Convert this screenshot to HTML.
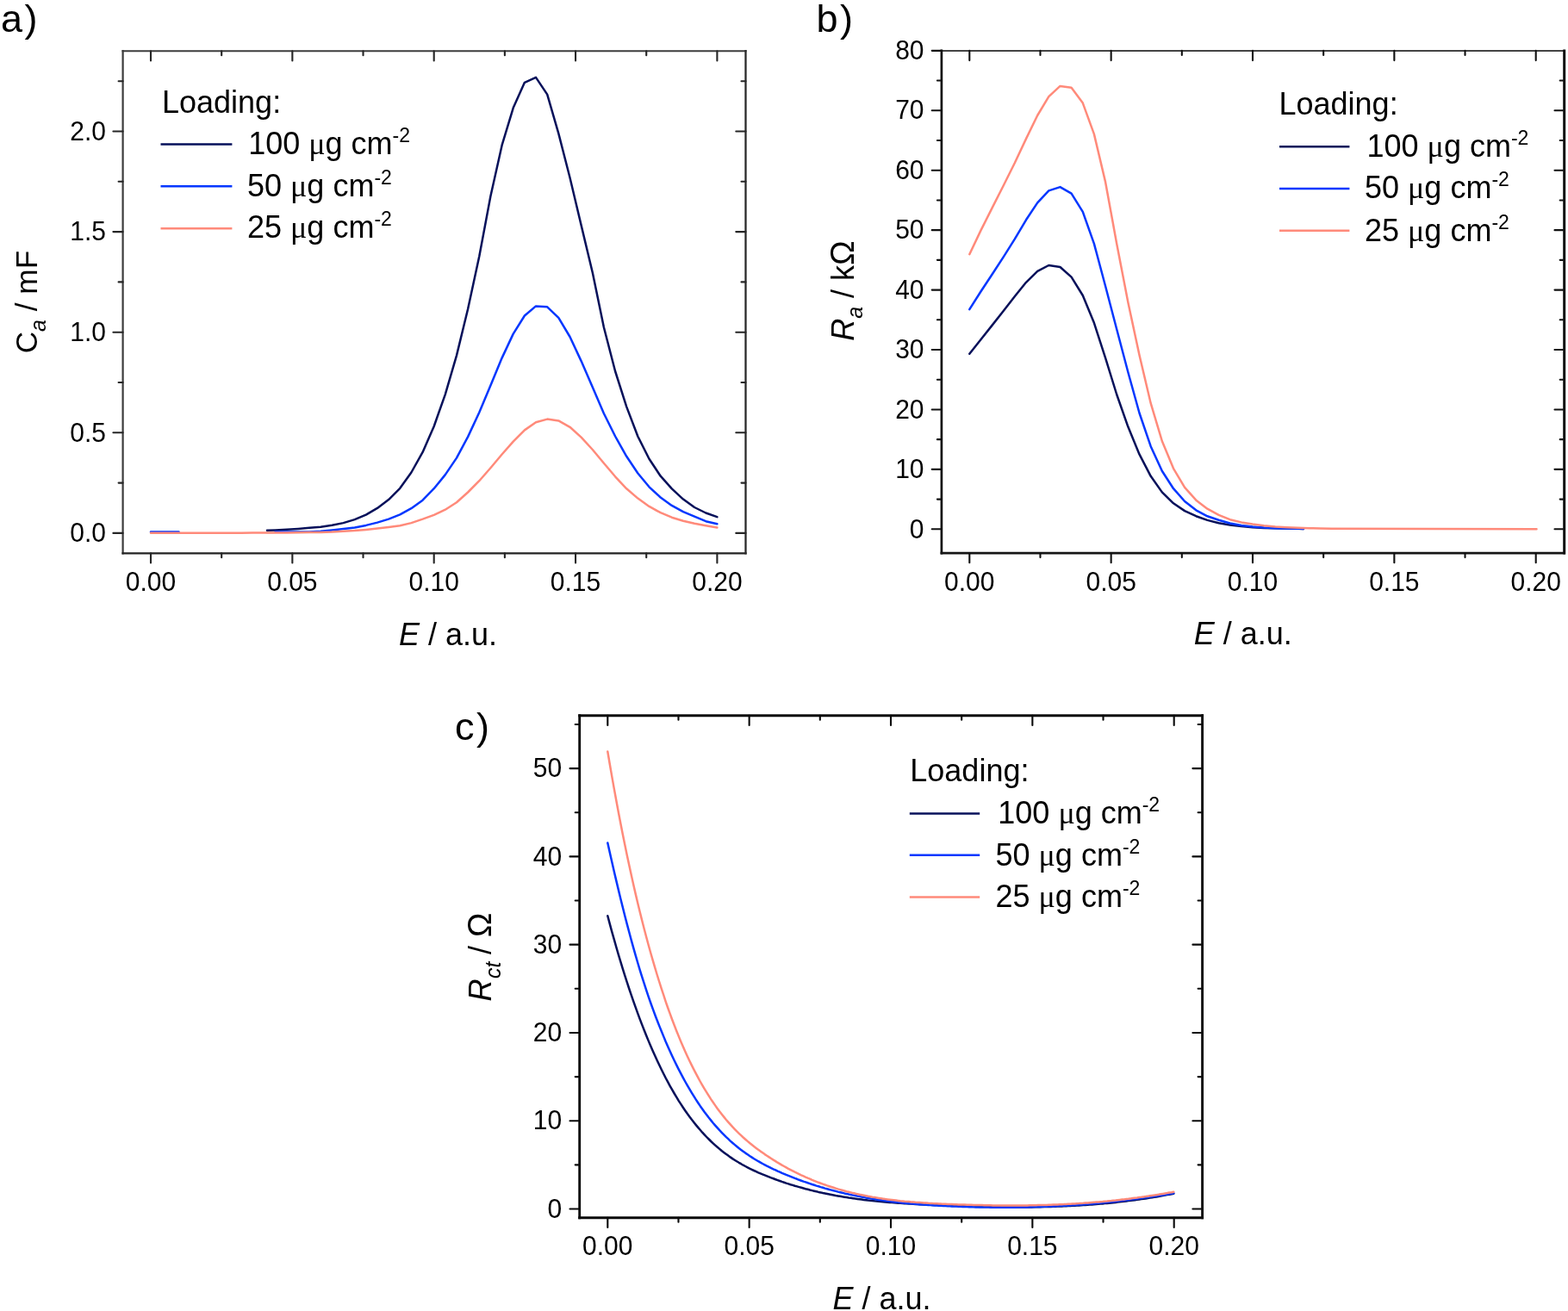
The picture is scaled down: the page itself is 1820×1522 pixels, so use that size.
<!DOCTYPE html>
<html><head><meta charset="utf-8"><title>Figure</title>
<style>
html,body{margin:0;padding:0;background:#fff;}
body{width:1820px;height:1522px;overflow:hidden;}
svg{display:block;}
text{font-family:'Liberation Sans', Arial, sans-serif;fill:#000;}
.tk{font-size:30px;}
.lg{font-size:36px;}
.sup{font-size:23px;}
.mu{font-family:'Liberation Serif',serif;}
.ax{font-size:36px;}
.sub{font-size:25px;font-style:italic;}
.it{font-style:italic;}
.pl{font-size:45px;}
</style></head>
<body>
<svg width="1820" height="1522" viewBox="0 0 1820 1522">
<rect width="1820" height="1522" fill="#fff"/>
<path d="M310.0 615.8 319.6 615.5 332.8 614.8 345.9 613.9 359.1 612.7 372.2 611.7 385.4 609.8 398.5 607.1 411.7 603.1 424.8 597.6 438.0 589.9 451.1 580.1 464.3 566.8 477.4 548.5 490.6 524.9 503.7 495.0 516.8 457.8 530.0 412.6 543.1 358.8 556.3 297.5 569.4 227.8 582.6 168.7 595.7 125.3 608.9 95.8 622.0 89.9 635.2 109.6 648.3 154.9 661.5 206.2 674.6 261.4 687.8 316.5 700.9 380.0 714.1 431.0 727.2 472.1 740.4 506.7 753.5 532.8 766.7 552.7 779.8 567.4 793.0 579.6 806.1 589.0 819.3 595.5 832.4 600.1" fill="none" stroke="#06105a" stroke-width="2.5" stroke-linejoin="round" stroke-linecap="round"/>
<path d="M175.0 617.6 207.5 617.6" fill="none" stroke="#0437ff" stroke-width="2.5" stroke-linejoin="round" stroke-linecap="round"/>
<path d="M319.6 617.5 332.8 617.5 345.9 617.5 359.1 617.5 372.2 616.7 385.4 615.5 398.5 614.1 411.7 612.4 424.8 609.9 438.0 606.6 451.1 602.6 464.3 597.3 477.4 590.2 490.6 580.7 503.7 567.2 516.8 551.1 530.0 531.6 543.1 507.1 556.3 478.7 569.4 447.5 582.6 415.6 595.7 387.6 608.9 366.5 622.0 355.4 635.2 356.3 648.3 368.8 661.5 391.0 674.6 419.1 687.8 449.4 700.9 480.0 714.1 506.5 727.2 529.8 740.4 549.5 753.5 565.3 766.7 577.5 779.8 586.9 793.0 594.2 806.1 599.7 819.3 605.2 832.4 608.2" fill="none" stroke="#0437ff" stroke-width="2.5" stroke-linejoin="round" stroke-linecap="round"/>
<path d="M175.0 618.8 188.1 618.8 201.3 618.8 214.4 618.8 227.6 618.8 240.7 618.8 253.9 618.7 267.0 618.7 280.2 618.7 293.3 618.6 306.5 618.6 319.6 618.5 332.8 618.4 345.9 618.2 359.1 618.0 372.2 617.9 385.4 617.5 398.5 616.8 411.7 616.0 424.8 614.9 438.0 613.6 451.1 612.1 464.3 610.3 477.4 607.1 490.6 602.6 503.7 597.8 516.8 591.7 530.0 583.3 543.1 571.5 556.3 558.2 569.4 543.2 582.6 527.5 595.7 512.6 608.9 499.4 622.0 490.3 635.2 486.6 648.3 488.4 661.5 495.8 674.6 507.6 687.8 522.0 700.9 537.8 714.1 553.3 727.2 567.3 740.4 578.6 753.5 587.9 766.7 595.2 779.8 600.7 793.0 604.7 806.1 607.8 819.3 610.3 832.4 612.6" fill="none" stroke="#ff8a7a" stroke-width="2.5" stroke-linejoin="round" stroke-linecap="round"/>
<path d="M1125.3 410.8 1138.4 394.2 1151.6 377.6 1164.7 360.9 1177.9 344.1 1191.0 327.8 1204.2 314.8 1217.3 308.0 1230.5 310.0 1243.6 321.6 1256.8 343.0 1269.9 374.8 1283.1 415.6 1296.2 458.0 1309.4 495.6 1322.5 527.4 1335.7 552.8 1348.8 571.4 1362.0 584.3 1375.1 593.1 1388.3 599.2 1401.4 603.9 1414.6 607.3 1427.7 609.4 1440.9 611.1 1454.0 612.2 1467.1 612.9 1480.3 613.3 1493.4 613.6 1506.6 613.8 1513.0 613.9" fill="none" stroke="#06105a" stroke-width="2.5" stroke-linejoin="round" stroke-linecap="round"/>
<path d="M1125.3 359.2 1138.4 338.5 1151.6 318.5 1164.7 298.4 1177.9 277.4 1191.0 255.3 1204.2 235.4 1217.3 221.4 1230.5 217.1 1243.6 224.6 1256.8 245.9 1269.9 282.9 1283.1 332.2 1296.2 382.2 1309.4 432.2 1322.5 479.5 1335.7 518.2 1348.8 546.7 1362.0 567.2 1375.1 582.0 1388.3 592.3 1401.4 599.3 1414.6 603.7 1427.7 607.5 1440.9 610.0 1454.0 611.6 1467.1 612.6 1480.3 613.2 1493.4 613.6 1506.6 613.8 1513.0 613.9" fill="none" stroke="#0437ff" stroke-width="2.5" stroke-linejoin="round" stroke-linecap="round"/>
<path d="M1125.3 295.2 1138.4 267.6 1151.6 241.4 1164.7 215.5 1177.9 189.0 1191.0 161.1 1204.2 134.0 1217.3 112.1 1230.5 99.9 1243.6 101.7 1256.8 119.6 1269.9 155.6 1283.1 211.4 1296.2 282.9 1309.4 351.2 1322.5 412.3 1335.7 468.2 1348.8 512.0 1362.0 543.8 1375.1 565.9 1388.3 580.7 1401.4 590.7 1414.6 597.9 1427.7 603.2 1440.9 606.4 1454.0 608.6 1467.1 610.2 1480.3 611.4 1493.4 612.2 1506.6 612.8 1519.7 613.2 1532.9 613.5 1546.0 613.7 1550.0 613.7 1783.5 614.2" fill="none" stroke="#ff8a7a" stroke-width="2.5" stroke-linejoin="round" stroke-linecap="round"/>
<path d="M705.3 1063.2 707.8 1072.6 710.3 1081.8 712.8 1090.7 715.3 1099.5 717.8 1108.1 720.3 1116.4 722.8 1124.6 725.3 1132.6 727.8 1140.4 730.3 1148.0 732.8 1155.4 735.3 1162.7 737.8 1169.7 740.3 1176.6 742.8 1183.4 745.3 1189.9 747.8 1196.3 750.3 1202.5 752.8 1208.6 755.3 1214.5 757.8 1220.2 760.3 1225.8 762.8 1231.2 765.3 1236.5 767.8 1241.7 770.3 1246.7 772.7 1251.5 775.2 1256.2 777.7 1260.8 780.2 1265.2 782.7 1269.5 785.2 1273.7 787.7 1277.8 790.2 1281.7 792.7 1285.5 795.2 1289.2 797.7 1292.8 800.2 1296.2 802.7 1299.6 805.2 1302.8 807.7 1305.9 810.2 1308.9 812.7 1311.8 815.2 1314.7 817.7 1317.4 820.2 1320.0 822.7 1322.5 825.2 1325.0 827.7 1327.3 830.2 1329.6 832.7 1331.8 835.2 1333.9 837.7 1336.0 840.2 1337.9 842.7 1339.8 845.2 1341.6 847.7 1343.4 850.2 1345.1 852.7 1346.7 855.2 1348.3 857.7 1349.8 860.2 1351.2 862.7 1352.7 865.2 1354.0 867.7 1355.3 870.2 1356.6 872.7 1357.8 875.2 1359.0 877.7 1360.1 880.2 1361.3 882.7 1362.3 885.2 1363.4 887.7 1364.4 890.2 1365.4 892.7 1366.4 895.2 1367.4 897.7 1368.3 900.2 1369.2 902.6 1370.1 905.1 1371.0 907.6 1371.9 910.1 1372.7 912.6 1373.6 915.1 1374.4 917.6 1375.2 920.1 1375.9 922.6 1376.7 925.1 1377.4 927.6 1378.1 930.1 1378.8 932.6 1379.5 935.1 1380.2 937.6 1380.8 940.1 1381.5 942.6 1382.1 945.1 1382.7 947.6 1383.3 950.1 1383.9 952.6 1384.4 955.1 1385.0 957.6 1385.5 960.1 1386.0 962.6 1386.5 965.1 1387.0 967.6 1387.5 970.1 1388.0 972.6 1388.4 975.1 1388.8 977.6 1389.3 980.1 1389.7 982.6 1390.1 985.1 1390.5 987.6 1390.8 990.1 1391.2 992.6 1391.6 995.1 1391.9 997.6 1392.2 1000.1 1392.5 1002.6 1392.9 1005.1 1393.2 1007.6 1393.5 1010.1 1393.7 1012.6 1394.0 1015.1 1394.3 1017.6 1394.5 1020.1 1394.8 1022.6 1395.0 1025.1 1395.3 1027.6 1395.5 1030.1 1395.7 1032.6 1395.9 1035.0 1396.1 1037.5 1396.3 1040.0 1396.5 1042.5 1396.7 1045.0 1396.8 1047.5 1397.0 1050.0 1397.2 1052.5 1397.3 1055.0 1397.5 1057.5 1397.6 1060.0 1397.8 1062.5 1397.9 1065.0 1398.1 1067.5 1398.2 1070.0 1398.3 1072.5 1398.4 1075.0 1398.6 1077.5 1398.7 1080.0 1398.8 1082.5 1398.9 1085.0 1399.0 1087.5 1399.1 1090.0 1399.2 1092.5 1399.4 1095.0 1399.5 1097.5 1399.6 1100.0 1399.7 1102.5 1399.8 1105.0 1399.9 1107.5 1399.9 1110.0 1400.0 1112.5 1400.1 1115.0 1400.2 1117.5 1400.3 1120.0 1400.4 1122.5 1400.5 1125.0 1400.5 1127.5 1400.6 1130.0 1400.7 1132.5 1400.8 1135.0 1400.8 1137.5 1400.9 1140.0 1401.0 1142.5 1401.0 1145.0 1401.1 1147.5 1401.1 1150.0 1401.2 1152.5 1401.2 1155.0 1401.3 1157.5 1401.3 1160.0 1401.3 1162.5 1401.4 1165.0 1401.4 1167.4 1401.4 1169.9 1401.4 1172.4 1401.4 1174.9 1401.4 1177.4 1401.5 1179.9 1401.5 1182.4 1401.5 1184.9 1401.5 1187.4 1401.4 1189.9 1401.4 1192.4 1401.4 1194.9 1401.4 1197.4 1401.4 1199.9 1401.3 1202.4 1401.3 1204.9 1401.2 1207.4 1401.2 1209.9 1401.1 1212.4 1401.1 1214.9 1401.0 1217.4 1401.0 1219.9 1400.9 1222.4 1400.8 1224.9 1400.7 1227.4 1400.6 1229.9 1400.5 1232.4 1400.4 1234.9 1400.3 1237.4 1400.2 1239.9 1400.1 1242.4 1400.0 1244.9 1399.8 1247.4 1399.7 1249.9 1399.6 1252.4 1399.4 1254.9 1399.3 1257.4 1399.1 1259.9 1398.9 1262.4 1398.8 1264.9 1398.6 1267.4 1398.4 1269.9 1398.2 1272.4 1398.0 1274.9 1397.8 1277.4 1397.6 1279.9 1397.4 1282.4 1397.1 1284.9 1396.9 1287.4 1396.7 1289.9 1396.4 1292.4 1396.2 1294.9 1395.9 1297.3 1395.6 1299.8 1395.3 1302.3 1395.1 1304.8 1394.8 1307.3 1394.5 1309.8 1394.1 1312.3 1393.8 1314.8 1393.5 1317.3 1393.2 1319.8 1392.8 1322.3 1392.5 1324.8 1392.1 1327.3 1391.7 1329.8 1391.4 1332.3 1391.0 1334.8 1390.6 1337.3 1390.2 1339.8 1389.8 1342.3 1389.4 1344.8 1388.9 1347.3 1388.5 1349.8 1388.1 1352.3 1387.6 1354.8 1387.1 1357.3 1386.7 1359.8 1386.2 1362.3 1385.7" fill="none" stroke="#06105a" stroke-width="2.5" stroke-linejoin="round" stroke-linecap="round"/>
<path d="M705.3 978.4 707.8 989.7 710.3 1000.8 712.8 1011.7 715.3 1022.4 717.8 1032.9 720.3 1043.2 722.8 1053.3 725.3 1063.2 727.8 1072.9 730.3 1082.3 732.8 1091.6 735.3 1100.6 737.8 1109.4 740.3 1118.0 742.8 1126.3 745.3 1134.4 747.8 1142.2 750.3 1149.9 752.8 1157.3 755.3 1164.5 757.8 1171.4 760.3 1178.2 762.8 1184.8 765.3 1191.1 767.8 1197.3 770.3 1203.4 772.7 1209.3 775.2 1215.0 777.7 1220.6 780.2 1226.0 782.7 1231.2 785.2 1236.4 787.7 1241.4 790.2 1246.2 792.7 1250.9 795.2 1255.5 797.7 1259.9 800.2 1264.2 802.7 1268.4 805.2 1272.4 807.7 1276.4 810.2 1280.2 812.7 1283.9 815.2 1287.4 817.7 1290.9 820.2 1294.2 822.7 1297.5 825.2 1300.6 827.7 1303.7 830.2 1306.6 832.7 1309.4 835.2 1312.2 837.7 1314.8 840.2 1317.4 842.7 1319.9 845.2 1322.2 847.7 1324.6 850.2 1326.8 852.7 1328.9 855.2 1331.0 857.7 1333.0 860.2 1334.9 862.7 1336.8 865.2 1338.6 867.7 1340.3 870.2 1342.0 872.7 1343.6 875.2 1345.2 877.7 1346.7 880.2 1348.2 882.7 1349.6 885.2 1351.0 887.7 1352.3 890.2 1353.6 892.7 1354.8 895.2 1356.1 897.7 1357.3 900.2 1358.4 902.6 1359.6 905.1 1360.7 907.6 1361.8 910.1 1362.8 912.6 1363.9 915.1 1364.9 917.6 1365.9 920.1 1366.9 922.6 1367.9 925.1 1368.8 927.6 1369.8 930.1 1370.7 932.6 1371.6 935.1 1372.4 937.6 1373.3 940.1 1374.1 942.6 1375.0 945.1 1375.8 947.6 1376.6 950.1 1377.3 952.6 1378.1 955.1 1378.8 957.6 1379.6 960.1 1380.3 962.6 1381.0 965.1 1381.6 967.6 1382.3 970.1 1382.9 972.6 1383.6 975.1 1384.2 977.6 1384.8 980.1 1385.4 982.6 1385.9 985.1 1386.5 987.6 1387.0 990.1 1387.6 992.6 1388.1 995.1 1388.6 997.6 1389.1 1000.1 1389.5 1002.6 1390.0 1005.1 1390.4 1007.6 1390.9 1010.1 1391.3 1012.6 1391.7 1015.1 1392.1 1017.6 1392.5 1020.1 1392.9 1022.6 1393.2 1025.1 1393.6 1027.6 1394.0 1030.1 1394.3 1032.6 1394.6 1035.0 1394.9 1037.5 1395.2 1040.0 1395.5 1042.5 1395.8 1045.0 1396.1 1047.5 1396.4 1050.0 1396.6 1052.5 1396.9 1055.0 1397.1 1057.5 1397.3 1060.0 1397.6 1062.5 1397.8 1065.0 1398.0 1067.5 1398.2 1070.0 1398.4 1072.5 1398.6 1075.0 1398.7 1077.5 1398.9 1080.0 1399.1 1082.5 1399.2 1085.0 1399.4 1087.5 1399.5 1090.0 1399.7 1092.5 1399.8 1095.0 1400.0 1097.5 1400.1 1100.0 1400.2 1102.5 1400.3 1105.0 1400.4 1107.5 1400.5 1110.0 1400.6 1112.5 1400.7 1115.0 1400.8 1117.5 1400.9 1120.0 1401.0 1122.5 1401.1 1125.0 1401.2 1127.5 1401.2 1130.0 1401.3 1132.5 1401.4 1135.0 1401.4 1137.5 1401.5 1140.0 1401.5 1142.5 1401.6 1145.0 1401.6 1147.5 1401.6 1150.0 1401.7 1152.5 1401.7 1155.0 1401.7 1157.5 1401.7 1160.0 1401.7 1162.5 1401.7 1165.0 1401.7 1167.4 1401.7 1169.9 1401.7 1172.4 1401.7 1174.9 1401.7 1177.4 1401.7 1179.9 1401.6 1182.4 1401.6 1184.9 1401.6 1187.4 1401.5 1189.9 1401.5 1192.4 1401.4 1194.9 1401.3 1197.4 1401.3 1199.9 1401.2 1202.4 1401.1 1204.9 1401.1 1207.4 1401.0 1209.9 1400.9 1212.4 1400.8 1214.9 1400.7 1217.4 1400.6 1219.9 1400.5 1222.4 1400.4 1224.9 1400.2 1227.4 1400.1 1229.9 1400.0 1232.4 1399.8 1234.9 1399.7 1237.4 1399.5 1239.9 1399.4 1242.4 1399.2 1244.9 1399.1 1247.4 1398.9 1249.9 1398.7 1252.4 1398.6 1254.9 1398.4 1257.4 1398.2 1259.9 1398.0 1262.4 1397.8 1264.9 1397.6 1267.4 1397.4 1269.9 1397.2 1272.4 1396.9 1274.9 1396.7 1277.4 1396.5 1279.9 1396.2 1282.4 1396.0 1284.9 1395.7 1287.4 1395.5 1289.9 1395.2 1292.4 1395.0 1294.9 1394.7 1297.3 1394.4 1299.8 1394.1 1302.3 1393.8 1304.8 1393.5 1307.3 1393.2 1309.8 1392.9 1312.3 1392.6 1314.8 1392.3 1317.3 1392.0 1319.8 1391.7 1322.3 1391.3 1324.8 1391.0 1327.3 1390.6 1329.8 1390.3 1332.3 1389.9 1334.8 1389.6 1337.3 1389.2 1339.8 1388.8 1342.3 1388.5 1344.8 1388.1 1347.3 1387.7 1349.8 1387.3 1352.3 1386.9 1354.8 1386.5 1357.3 1386.1 1359.8 1385.6 1362.3 1385.2" fill="none" stroke="#0437ff" stroke-width="2.5" stroke-linejoin="round" stroke-linecap="round"/>
<path d="M705.3 872.5 707.8 887.2 710.3 901.6 712.8 915.6 715.3 929.3 717.8 942.7 720.3 955.7 722.8 968.4 725.3 980.8 727.8 992.9 730.3 1004.6 732.8 1016.1 735.3 1027.3 737.8 1038.1 740.3 1048.7 742.8 1059.0 745.3 1069.0 747.8 1078.8 750.3 1088.3 752.8 1097.5 755.3 1106.5 757.8 1115.2 760.3 1123.7 762.8 1132.0 765.3 1140.0 767.8 1147.8 770.3 1155.4 772.7 1162.8 775.2 1170.0 777.7 1176.9 780.2 1183.7 782.7 1190.3 785.2 1196.7 787.7 1202.9 790.2 1208.9 792.7 1214.7 795.2 1220.4 797.7 1225.9 800.2 1231.2 802.7 1236.4 805.2 1241.4 807.7 1246.2 810.2 1250.9 812.7 1255.5 815.2 1259.9 817.7 1264.1 820.2 1268.2 822.7 1272.2 825.2 1276.1 827.7 1279.8 830.2 1283.4 832.7 1286.9 835.2 1290.3 837.7 1293.5 840.2 1296.6 842.7 1299.7 845.2 1302.6 847.7 1305.4 850.2 1308.2 852.7 1310.8 855.2 1313.4 857.7 1315.8 860.2 1318.2 862.7 1320.5 865.2 1322.7 867.7 1324.9 870.2 1327.0 872.7 1329.0 875.2 1331.0 877.7 1332.9 880.2 1334.8 882.7 1336.6 885.2 1338.3 887.7 1340.1 890.2 1341.8 892.7 1343.4 895.2 1345.0 897.7 1346.6 900.2 1348.1 902.6 1349.7 905.1 1351.1 907.6 1352.6 910.1 1354.0 912.6 1355.4 915.1 1356.8 917.6 1358.1 920.1 1359.4 922.6 1360.7 925.1 1361.9 927.6 1363.1 930.1 1364.3 932.6 1365.4 935.1 1366.6 937.6 1367.7 940.1 1368.7 942.6 1369.8 945.1 1370.8 947.6 1371.8 950.1 1372.8 952.6 1373.7 955.1 1374.6 957.6 1375.5 960.1 1376.4 962.6 1377.2 965.1 1378.0 967.6 1378.8 970.1 1379.6 972.6 1380.4 975.1 1381.1 977.6 1381.8 980.1 1382.5 982.6 1383.2 985.1 1383.8 987.6 1384.4 990.1 1385.1 992.6 1385.6 995.1 1386.2 997.6 1386.8 1000.1 1387.3 1002.6 1387.8 1005.1 1388.3 1007.6 1388.8 1010.1 1389.2 1012.6 1389.7 1015.1 1390.1 1017.6 1390.5 1020.1 1390.9 1022.6 1391.3 1025.1 1391.7 1027.6 1392.1 1030.1 1392.4 1032.6 1392.7 1035.0 1393.0 1037.5 1393.3 1040.0 1393.6 1042.5 1393.9 1045.0 1394.2 1047.5 1394.4 1050.0 1394.7 1052.5 1394.9 1055.0 1395.1 1057.5 1395.4 1060.0 1395.6 1062.5 1395.8 1065.0 1395.9 1067.5 1396.1 1070.0 1396.3 1072.5 1396.5 1075.0 1396.6 1077.5 1396.8 1080.0 1396.9 1082.5 1397.1 1085.0 1397.2 1087.5 1397.3 1090.0 1397.4 1092.5 1397.6 1095.0 1397.7 1097.5 1397.8 1100.0 1397.9 1102.5 1398.0 1105.0 1398.1 1107.5 1398.2 1110.0 1398.3 1112.5 1398.4 1115.0 1398.5 1117.5 1398.5 1120.0 1398.6 1122.5 1398.7 1125.0 1398.8 1127.5 1398.8 1130.0 1398.9 1132.5 1399.0 1135.0 1399.0 1137.5 1399.1 1140.0 1399.1 1142.5 1399.2 1145.0 1399.2 1147.5 1399.3 1150.0 1399.3 1152.5 1399.4 1155.0 1399.4 1157.5 1399.4 1160.0 1399.4 1162.5 1399.5 1165.0 1399.5 1167.4 1399.5 1169.9 1399.5 1172.4 1399.5 1174.9 1399.5 1177.4 1399.5 1179.9 1399.5 1182.4 1399.5 1184.9 1399.5 1187.4 1399.4 1189.9 1399.4 1192.4 1399.4 1194.9 1399.3 1197.4 1399.3 1199.9 1399.2 1202.4 1399.2 1204.9 1399.1 1207.4 1399.1 1209.9 1399.0 1212.4 1398.9 1214.9 1398.9 1217.4 1398.8 1219.9 1398.7 1222.4 1398.6 1224.9 1398.5 1227.4 1398.4 1229.9 1398.3 1232.4 1398.2 1234.9 1398.1 1237.4 1397.9 1239.9 1397.8 1242.4 1397.7 1244.9 1397.5 1247.4 1397.4 1249.9 1397.2 1252.4 1397.1 1254.9 1396.9 1257.4 1396.8 1259.9 1396.6 1262.4 1396.4 1264.9 1396.2 1267.4 1396.0 1269.9 1395.8 1272.4 1395.6 1274.9 1395.4 1277.4 1395.2 1279.9 1395.0 1282.4 1394.7 1284.9 1394.5 1287.4 1394.2 1289.9 1394.0 1292.4 1393.7 1294.9 1393.5 1297.3 1393.2 1299.8 1392.9 1302.3 1392.6 1304.8 1392.4 1307.3 1392.1 1309.8 1391.8 1312.3 1391.4 1314.8 1391.1 1317.3 1390.8 1319.8 1390.5 1322.3 1390.1 1324.8 1389.8 1327.3 1389.4 1329.8 1389.1 1332.3 1388.7 1334.8 1388.3 1337.3 1387.9 1339.8 1387.6 1342.3 1387.2 1344.8 1386.8 1347.3 1386.3 1349.8 1385.9 1352.3 1385.5 1354.8 1385.1 1357.3 1384.6 1359.8 1384.2 1362.3 1383.7" fill="none" stroke="#ff8a7a" stroke-width="2.5" stroke-linejoin="round" stroke-linecap="round"/>
<line x1="142.6" y1="59.2" x2="865.5" y2="59.2" stroke="#3c3c3c" stroke-width="2.1" stroke-linecap="square"/>
<line x1="142.6" y1="59.2" x2="142.6" y2="642.3" stroke="#3c3c3c" stroke-width="2.2" stroke-linecap="square"/>
<line x1="142.6" y1="642.3" x2="865.5" y2="642.3" stroke="#222" stroke-width="2.3" stroke-linecap="square"/>
<line x1="865.5" y1="59.2" x2="865.5" y2="642.3" stroke="#2a2a2a" stroke-width="2.3" stroke-linecap="square"/>
<path d="M175 642.3v11.2M175 59.2v11.2M339.35 642.3v11.2M339.35 59.2v11.2M503.7 642.3v11.2M503.7 59.2v11.2M668.05 642.3v11.2M668.05 59.2v11.2M832.4 642.3v11.2M832.4 59.2v11.2M257.18 642.3v5.0M257.18 59.2v5.0M421.52 642.3v5.0M421.52 59.2v5.0M585.88 642.3v5.0M585.88 59.2v5.0M750.22 642.3v5.0M750.22 59.2v5.0M142.6 618.9h-11.2M865.5 618.9h-11.2M142.6 502.3h-11.2M865.5 502.3h-11.2M142.6 385.7h-11.2M865.5 385.7h-11.2M142.6 269.1h-11.2M865.5 269.1h-11.2M142.6 152.5h-11.2M865.5 152.5h-11.2M142.6 560.6h-5.0M865.5 560.6h-5.0M142.6 444h-5.0M865.5 444h-5.0M142.6 327.4h-5.0M865.5 327.4h-5.0M142.6 210.8h-5.0M865.5 210.8h-5.0M142.6 94.2h-5.0M865.5 94.2h-5.0" fill="none" stroke="#262626" stroke-width="2.1" stroke-linecap="round"/>
<text transform="translate(175,686) scale(1,1.07)" text-anchor="middle" class="tk">0.00</text>
<text transform="translate(339.35,686) scale(1,1.07)" text-anchor="middle" class="tk">0.05</text>
<text transform="translate(503.7,686) scale(1,1.07)" text-anchor="middle" class="tk">0.10</text>
<text transform="translate(668.05,686) scale(1,1.07)" text-anchor="middle" class="tk">0.15</text>
<text transform="translate(832.4,686) scale(1,1.07)" text-anchor="middle" class="tk">0.20</text>
<text transform="translate(122.9,629.1) scale(1,1.07)" text-anchor="end" class="tk">0.0</text>
<text transform="translate(122.9,512.5) scale(1,1.07)" text-anchor="end" class="tk">0.5</text>
<text transform="translate(122.9,395.9) scale(1,1.07)" text-anchor="end" class="tk">1.0</text>
<text transform="translate(122.9,279.3) scale(1,1.07)" text-anchor="end" class="tk">1.5</text>
<text transform="translate(122.9,162.7) scale(1,1.07)" text-anchor="end" class="tk">2.0</text>
<line x1="1092.9" y1="58.9" x2="1815.7" y2="58.9" stroke="#444" stroke-width="2.0" stroke-linecap="square"/>
<line x1="1092.9" y1="58.9" x2="1092.9" y2="642.1" stroke="#111" stroke-width="2.7" stroke-linecap="square"/>
<line x1="1092.9" y1="642.1" x2="1815.7" y2="642.1" stroke="#151515" stroke-width="2.6" stroke-linecap="square"/>
<line x1="1815.7" y1="58.9" x2="1815.7" y2="642.1" stroke="#0a0a0a" stroke-width="3.0" stroke-linecap="square"/>
<path d="M1125.3 642.1v11.2M1125.3 58.9v11.2M1289.65 642.1v11.2M1289.65 58.9v11.2M1454 642.1v11.2M1454 58.9v11.2M1618.35 642.1v11.2M1618.35 58.9v11.2M1782.7 642.1v11.2M1782.7 58.9v11.2M1207.47 642.1v5.0M1207.47 58.9v5.0M1371.82 642.1v5.0M1371.82 58.9v5.0M1536.17 642.1v5.0M1536.17 58.9v5.0M1700.52 642.1v5.0M1700.52 58.9v5.0M1092.9 614.3h-11.2M1815.7 614.3h-11.2M1092.9 544.87h-11.2M1815.7 544.87h-11.2M1092.9 475.44h-11.2M1815.7 475.44h-11.2M1092.9 406.01h-11.2M1815.7 406.01h-11.2M1092.9 336.58h-11.2M1815.7 336.58h-11.2M1092.9 267.15h-11.2M1815.7 267.15h-11.2M1092.9 197.72h-11.2M1815.7 197.72h-11.2M1092.9 128.29h-11.2M1815.7 128.29h-11.2M1092.9 58.86h-11.2M1092.9 579.58h-5.0M1815.7 579.58h-5.0M1092.9 510.15h-5.0M1815.7 510.15h-5.0M1092.9 440.72h-5.0M1815.7 440.72h-5.0M1092.9 371.29h-5.0M1815.7 371.29h-5.0M1092.9 301.86h-5.0M1815.7 301.86h-5.0M1092.9 232.44h-5.0M1815.7 232.44h-5.0M1092.9 163h-5.0M1815.7 163h-5.0M1092.9 93.57h-5.0M1815.7 93.57h-5.0" fill="none" stroke="#111" stroke-width="2.1" stroke-linecap="round"/>
<text transform="translate(1125.3,685.8) scale(1,1.07)" text-anchor="middle" class="tk">0.00</text>
<text transform="translate(1289.65,685.8) scale(1,1.07)" text-anchor="middle" class="tk">0.05</text>
<text transform="translate(1454,685.8) scale(1,1.07)" text-anchor="middle" class="tk">0.10</text>
<text transform="translate(1618.35,685.8) scale(1,1.07)" text-anchor="middle" class="tk">0.15</text>
<text transform="translate(1782.7,685.8) scale(1,1.07)" text-anchor="middle" class="tk">0.20</text>
<text transform="translate(1072.5,624.5) scale(1,1.07)" text-anchor="end" class="tk">0</text>
<text transform="translate(1072.5,555.07) scale(1,1.07)" text-anchor="end" class="tk">10</text>
<text transform="translate(1072.5,485.64) scale(1,1.07)" text-anchor="end" class="tk">20</text>
<text transform="translate(1072.5,416.21) scale(1,1.07)" text-anchor="end" class="tk">30</text>
<text transform="translate(1072.5,346.78) scale(1,1.07)" text-anchor="end" class="tk">40</text>
<text transform="translate(1072.5,277.35) scale(1,1.07)" text-anchor="end" class="tk">50</text>
<text transform="translate(1072.5,207.92) scale(1,1.07)" text-anchor="end" class="tk">60</text>
<text transform="translate(1072.5,138.49) scale(1,1.07)" text-anchor="end" class="tk">70</text>
<text transform="translate(1072.5,69.06) scale(1,1.07)" text-anchor="end" class="tk">80</text>
<line x1="672.7" y1="830.7" x2="1395.6" y2="830.7" stroke="#0a0a0a" stroke-width="2.9" stroke-linecap="square"/>
<line x1="672.7" y1="830.7" x2="672.7" y2="1413.7" stroke="#0a0a0a" stroke-width="2.9" stroke-linecap="square"/>
<line x1="672.7" y1="1413.7" x2="1395.6" y2="1413.7" stroke="#0a0a0a" stroke-width="2.9" stroke-linecap="square"/>
<line x1="1395.6" y1="830.7" x2="1395.6" y2="1413.7" stroke="#0a0a0a" stroke-width="2.9" stroke-linecap="square"/>
<path d="M705.3 1413.7v11.2M705.3 830.7v11.2M869.65 1413.7v11.2M869.65 830.7v11.2M1034 1413.7v11.2M1034 830.7v11.2M1198.35 1413.7v11.2M1198.35 830.7v11.2M1362.7 1413.7v11.2M1362.7 830.7v11.2M787.47 1413.7v5.0M787.47 830.7v5.0M951.82 1413.7v5.0M951.82 830.7v5.0M1116.17 1413.7v5.0M1116.17 830.7v5.0M1280.52 1413.7v5.0M1280.52 830.7v5.0M672.7 1403.5h-11.2M1395.6 1403.5h-11.2M672.7 1301.22h-11.2M1395.6 1301.22h-11.2M672.7 1198.94h-11.2M1395.6 1198.94h-11.2M672.7 1096.66h-11.2M1395.6 1096.66h-11.2M672.7 994.38h-11.2M1395.6 994.38h-11.2M672.7 892.1h-11.2M1395.6 892.1h-11.2M672.7 1352.36h-5.0M1395.6 1352.36h-5.0M672.7 1250.08h-5.0M1395.6 1250.08h-5.0M672.7 1147.8h-5.0M1395.6 1147.8h-5.0M672.7 1045.52h-5.0M1395.6 1045.52h-5.0M672.7 943.24h-5.0M1395.6 943.24h-5.0M672.7 840.96h-5.0M1395.6 840.96h-5.0" fill="none" stroke="#0a0a0a" stroke-width="2.1" stroke-linecap="round"/>
<text transform="translate(705.3,1457.4) scale(1,1.07)" text-anchor="middle" class="tk">0.00</text>
<text transform="translate(869.65,1457.4) scale(1,1.07)" text-anchor="middle" class="tk">0.05</text>
<text transform="translate(1034,1457.4) scale(1,1.07)" text-anchor="middle" class="tk">0.10</text>
<text transform="translate(1198.35,1457.4) scale(1,1.07)" text-anchor="middle" class="tk">0.15</text>
<text transform="translate(1362.7,1457.4) scale(1,1.07)" text-anchor="middle" class="tk">0.20</text>
<text transform="translate(652.2,1413.7) scale(1,1.07)" text-anchor="end" class="tk">0</text>
<text transform="translate(652.2,1311.42) scale(1,1.07)" text-anchor="end" class="tk">10</text>
<text transform="translate(652.2,1209.14) scale(1,1.07)" text-anchor="end" class="tk">20</text>
<text transform="translate(652.2,1106.86) scale(1,1.07)" text-anchor="end" class="tk">30</text>
<text transform="translate(652.2,1004.58) scale(1,1.07)" text-anchor="end" class="tk">40</text>
<text transform="translate(652.2,902.3) scale(1,1.07)" text-anchor="end" class="tk">50</text>
<text x="188.0" y="131.3" class="lg">Loading:</text>
<line x1="186.5" y1="167.4" x2="269.4" y2="167.4" stroke="#06105a" stroke-width="2.5"/>
<text x="288.2" y="178.5" class="lg">100 <tspan class="mu">μ</tspan>g cm<tspan class="sup" dy="-14">-2</tspan></text>
<line x1="186.5" y1="216.3" x2="269.4" y2="216.3" stroke="#0437ff" stroke-width="2.5"/>
<text x="287.0" y="227.6" class="lg">50 <tspan class="mu">μ</tspan>g cm<tspan class="sup" dy="-14">-2</tspan></text>
<line x1="186.5" y1="265.3" x2="269.4" y2="265.3" stroke="#ff8a7a" stroke-width="2.5"/>
<text x="287.0" y="276.3" class="lg">25 <tspan class="mu">μ</tspan>g cm<tspan class="sup" dy="-14">-2</tspan></text>
<text x="1484.5" y="132.8" class="lg">Loading:</text>
<line x1="1485.0" y1="170.3" x2="1566.4" y2="170.3" stroke="#06105a" stroke-width="2.5"/>
<text x="1586.5" y="181.5" class="lg">100 <tspan class="mu">μ</tspan>g cm<tspan class="sup" dy="-14">-2</tspan></text>
<line x1="1485.0" y1="219.0" x2="1566.4" y2="219.0" stroke="#0437ff" stroke-width="2.5"/>
<text x="1584.0" y="230.4" class="lg">50 <tspan class="mu">μ</tspan>g cm<tspan class="sup" dy="-14">-2</tspan></text>
<line x1="1485.0" y1="267.8" x2="1566.4" y2="267.8" stroke="#ff8a7a" stroke-width="2.5"/>
<text x="1584.0" y="279.6" class="lg">25 <tspan class="mu">μ</tspan>g cm<tspan class="sup" dy="-14">-2</tspan></text>
<text x="1056.3" y="907.1" class="lg">Loading:</text>
<line x1="1055.8" y1="944.4" x2="1137.2" y2="944.4" stroke="#06105a" stroke-width="2.5"/>
<text x="1158.3" y="955.8" class="lg">100 <tspan class="mu">μ</tspan>g cm<tspan class="sup" dy="-14">-2</tspan></text>
<line x1="1055.8" y1="992.7" x2="1137.2" y2="992.7" stroke="#0437ff" stroke-width="2.5"/>
<text x="1155.5" y="1004.5" class="lg">50 <tspan class="mu">μ</tspan>g cm<tspan class="sup" dy="-14">-2</tspan></text>
<line x1="1055.8" y1="1041.6" x2="1137.2" y2="1041.6" stroke="#ff8a7a" stroke-width="2.5"/>
<text x="1155.5" y="1053.4" class="lg">25 <tspan class="mu">μ</tspan>g cm<tspan class="sup" dy="-14">-2</tspan></text>
<text x="1" y="36.5" class="pl">a<tspan dx="2.5">)</tspan></text>
<text x="947.5" y="36.9" class="pl">b<tspan dx="2.5">)</tspan></text>
<text x="528" y="858.6" class="pl">c<tspan dx="2.5">)</tspan></text>
<text x="463" y="748.9" class="ax"><tspan class="it">E</tspan> / a.u.</text>
<text x="1385.7" y="748.0" class="ax"><tspan class="it">E</tspan> / a.u.</text>
<text x="966.4" y="1519.5" class="ax"><tspan class="it">E</tspan> / a.u.</text>
<text transform="translate(42.5,410.3) rotate(-90)" class="ax" style="font-size:35.2px"><tspan>C</tspan><tspan class="sub" dy="10.5">a</tspan><tspan dy="-10.5"> / mF</tspan></text>
<text transform="translate(990.6,395.8) rotate(-90)" class="ax"><tspan class="it">R</tspan><tspan class="sub" dy="10.5">a</tspan><tspan dy="-10.5"> / k</tspan><tspan style="font-size:38.5px">Ω</tspan></text>
<text transform="translate(570.2,1162.5) rotate(-90)" class="ax"><tspan class="it">R</tspan><tspan class="sub" dy="10.5" dx="0.5">ct</tspan><tspan dy="-10.5" dx="-1.5"> / </tspan><tspan style="font-size:38px">Ω</tspan></text>
</svg>
</body></html>
